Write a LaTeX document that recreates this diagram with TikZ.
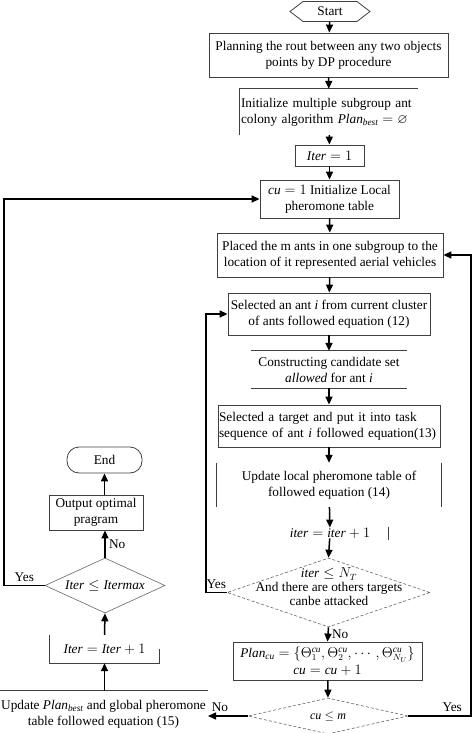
\documentclass[tikz,border=0pt]{standalone}
\usepackage{amsmath,amssymb}
\usepackage{fontspec}
\setmainfont{Liberation Serif}
\usetikzlibrary{arrows.meta,shapes.geometric,shapes.symbols}

\newcommand{\mvar}[1]{\textit{#1}}

\tikzset{
	box/.style={draw=black!75, line width=0.8pt, align=center, inner sep=2pt},
	open/.style={align=center, inner sep=2pt},
	side/.style={draw=black!75, line width=0.8pt},
	test/.style={diamond, draw=black!60, line width=0.6pt, inner sep=0pt},
	dashtest/.style={test, dash pattern=on 3pt off 2pt},
	flow/.style={line width=1.5pt, -{Triangle[length=8pt,width=7pt]}}
}

\begin{document}
\begin{tikzpicture}[x=1pt, y=-1pt, font=\fontsize{13.3}{16}\selectfont]
	\useasboundingbox (0,0) rectangle (474,733);

	% Nodes
	\node[signal, signal to=west and east, signal pointer angle=75, draw=black!75, line width=0.8pt, minimum width=80, minimum height=20, inner sep=0pt] (start) at (330,11.5) {Start};
	\node[box, minimum width=239, minimum height=44] (plan) at (328.5,55) {Planning the rout between any two objects\\points by DP procedure};
	\node[open, align=left, text width=176, inner xsep=1pt, minimum height=46] (init) at (329,112) {Initialize multiple subgroup ant\\colony algorithm $\mvar{Plan}_{\mvar{best}} = \varnothing$};
	\node[box, minimum width=69, minimum height=21] (iterA) at (329.5,155.5) {$\mvar{Iter} = 1$};
	\node[box, minimum width=139, minimum height=38] (cuinit) at (329.5,199) {$\mvar{cu} = 1$ Initialize Local\\pheromone table};
	\node[box, minimum width=226, minimum height=44] (place) at (330,255) {Placed the m ants in one subgroup to the\\location of it represented aerial vehicles};
	\node[box, minimum width=202, minimum height=42] (selant) at (329,314) {Selected an ant $\mvar{i}$ from current cluster\\of ants followed equation (12)};
	\node[open, minimum width=156, minimum height=37] (cons) at (329,369.5) {Constructing candidate set\\$\mvar{allowed}$ for ant $\mvar{i}$};
	\node[box, align=left, text width=220, inner xsep=1pt, minimum height=42] (seltar) at (329,426) {Selected a target and put it into task\\sequence of ant $\mvar{i}$ followed equation(13)};
	\node[open, minimum width=224, minimum height=44] (upd) at (329,485) {Update local pheromone table of\\followed equation (14)};
	\node[open, minimum width=116, inner sep=0pt] (iterB) at (330,533) {$\mvar{iter} = \mvar{iter} + 1$};
	\node[dashtest, minimum width=203, minimum height=69] (more) at (328.5,592.5) {};
	\node[open, inner sep=0pt] (moretext) at (329,587) {$\mvar{iter} \le N_T$\\[-2pt]And there are others targets\\[-2pt]canbe attacked};
	\node[box, minimum width=189, minimum height=38, inner ysep=1pt] (plancu) at (327.5,661) {$\mvar{Plan}_{\mvar{cu}} = \{\Theta_1^{\mvar{cu}}, \Theta_2^{\mvar{cu}}, \cdots, \Theta_{N_U}^{\mvar{cu}}\}$\\[1pt]$\mvar{cu} = \mvar{cu} + 1$};
	\node[dashtest, minimum width=160, minimum height=36] (cum) at (328,716) {};
	\node[open] (cumtext) at (328,716) {\large $\mvar{cu} \le \mvar{m}$};
	\node[open, minimum width=207, minimum height=46] (glob) at (103.5,714) {Update $\mvar{Plan}_{\mvar{best}}$ and global pheromone\\table followed equation (15)};
	\node[open, minimum width=110, minimum height=28] (iterC) at (104.5,649) {$\mvar{Iter} = \mvar{Iter} + 1$};
	\node[test, minimum width=120, minimum height=55] (maxq) at (105,585.5) {};
	\node[open] (maxtext) at (105,586) {$\mvar{Iter} \le \mvar{Itermax}$};
	\node[box, minimum width=94, minimum height=35] (out) at (96,512.5) {Output optimal\\pragram};
	\node[box, rounded corners=12, minimum width=75, minimum height=26] (end) at (104.5,460) {End};

	\coordinate (leftA) at (206,0);
	\coordinate (rightA) at (471,0);
	\coordinate (leftB) at (4,0);

	% Open sides
	\draw[side] (init.south west) -- (init.north west) -- (init.north east);
	\draw[side] (cons.north west) -- (cons.north east) (cons.south west) -- (cons.south east);
	\draw[side] (upd.north west) -- (upd.south west) (upd.north east) -- (upd.south east);
	\draw[side] ([yshift=6.5pt]iterB.east) -- ([yshift=-6.5pt]iterB.east);
	\draw[side] (iterC.north west) -- (iterC.south west) -- (iterC.south east) -- (iterC.east);
	\draw[side] (glob.north west) -- (glob.north east);

	% Arrows
	\draw[flow] (start) -- (plan);
	\draw[flow] (plan) -- (init);
	\draw[flow] (init) -- (iterA);
	\draw[flow] (iterA) -- (cuinit);
	\draw[flow] (cuinit) -- (place);
	\draw[flow] (place) -- (selant);
	\draw[flow] (selant) -- (cons);
	\draw[flow] (cons) -- (seltar);
	\draw[flow] (seltar) -- (upd);
	\draw[flow] (upd) -- (iterB);
	\draw[flow] (iterB) -- (more.north);
	\draw[flow] (more.south) -- (plancu.north) node[midway, right] {No};
	\draw[flow] (plancu) -- (cum.north);
	\draw[flow] (more.west) -- (more.west -| leftA) node[midway, above] {Yes} |- (selant.west);
	\draw[flow] (cum.east) -- (cum.east -| rightA) node[pos=.7, above] {Yes} |- (place.east);
	\draw[flow] (cum.west) -- (cum.west -| glob.east) node[pos=.7, above] {No};
	\draw[flow] (iterC.south |- glob.north) -- (iterC.south);
	\draw[flow] (iterC.north) -- (maxq.south);
	\draw[flow] (maxq.north) -- (maxq.north |- out.south) node[midway, right] {No};
	\draw[flow] (out.north -| end.south) -- (end.south);
	\draw[flow] (maxq.west) -- (maxq.west -| leftB) node[midway, above] {Yes} |- (cuinit.west);
\end{tikzpicture}
\end{document}
